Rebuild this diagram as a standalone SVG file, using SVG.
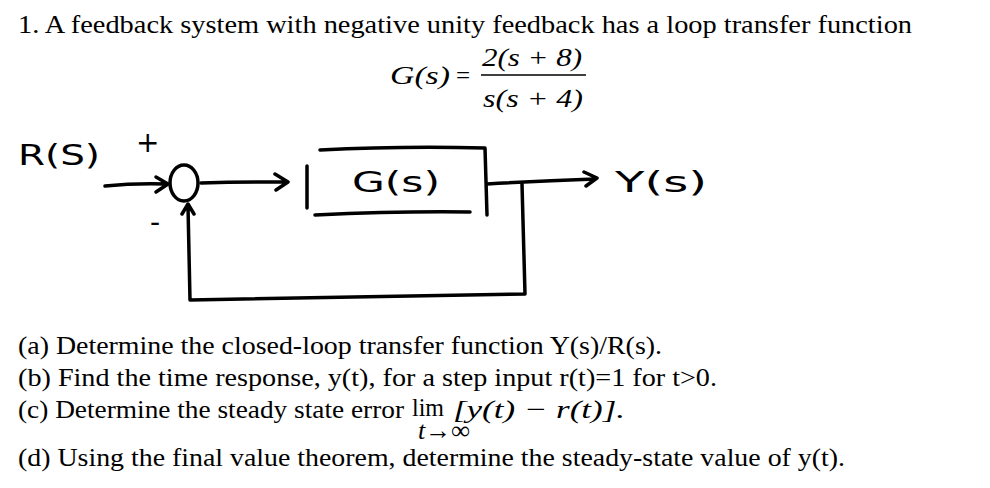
<svg xmlns="http://www.w3.org/2000/svg" width="990" height="488" viewBox="0 0 990 488">
<style>
.t{font-family:"Liberation Serif",serif;font-size:25px;fill:#000}
.m{font-family:"Liberation Serif",serif;font-size:26px;fill:#000;font-style:italic}
.h{fill:none;stroke:#000;stroke-width:3.5;stroke-linecap:round;stroke-linejoin:round}
.hw{font-family:"DejaVu Sans",sans-serif;font-size:28px;fill:#000}
</style>
<rect width="990" height="488" fill="#fff"/>
<text class="t" x="18" y="33" textLength="894" lengthAdjust="spacingAndGlyphs">1.  A feedback system with negative unity feedback has a loop transfer function</text>
<g id="eq">
<text class="m" x="390" y="84" textLength="60" lengthAdjust="spacingAndGlyphs">G(s)</text>
<text class="t" x="456" y="84">=</text>
<text class="m" x="482" y="66" textLength="100" lengthAdjust="spacingAndGlyphs">2(s + 8)</text>
<line x1="481" y1="75" x2="586" y2="75" stroke="#000" stroke-width="1.6"/>
<text class="m" x="483" y="107" textLength="100" lengthAdjust="spacingAndGlyphs">s(s + 4)</text>
</g>
<g id="R"><text class="hw" x="18" y="165" textLength="82" lengthAdjust="spacingAndGlyphs">R(S)</text><text class="hw" x="136" y="152">+</text></g>
<g id="sum"><ellipse class="h" cx="184" cy="183" rx="14" ry="18"/><text class="hw" x="150" y="232">-</text></g>
<g id="G"><path class="h" d="M307 166 L307 208 M320 150 Q400 146 485 148 L487 215 M315 215 Q400 211 470 212"/><text class="hw" x="352" y="192" textLength="88" lengthAdjust="spacingAndGlyphs">G(s)</text></g>
<g id="Y"><text class="hw" x="615" y="192" textLength="92" lengthAdjust="spacingAndGlyphs">Y(s)</text></g>
<g id="connectors">
<path class="h" d="M105 186 Q135 183 166 184 M156 177 L168 184 L156 192"/>
<path class="h" d="M201 183 Q240 182 285 182 M275 174 L288 182 L276 190"/>
<path class="h" d="M487 184 Q540 181 595 179 M584 172 L597 178 L586 186"/>
<path class="h" d="M522 184 L525 294 Q350 297 190 300 L188 206 M182 214 L188 204 L194 214"/>
</g>
<g id="questions">
<text class="t" x="18" y="354" textLength="644" lengthAdjust="spacingAndGlyphs">(a) Determine the closed-loop transfer function Y(s)/R(s).</text>
<text class="t" x="18" y="386" textLength="699" lengthAdjust="spacingAndGlyphs">(b) Find the time response, y(t), for a step input r(t)=1 for t&gt;0.</text>
<text class="t" x="18" y="418" textLength="386" lengthAdjust="spacingAndGlyphs">(c) Determine the steady state error</text>
<text class="t" x="412" y="416" textLength="32" lengthAdjust="spacingAndGlyphs">lim</text>
<text class="m" x="453" y="418" textLength="172" lengthAdjust="spacingAndGlyphs">[y(t) − r(t)].</text>
<text class="m" x="418" y="439" font-size="12">t→∞</text>
<text class="t" x="18" y="466" textLength="827" lengthAdjust="spacingAndGlyphs">(d) Using the final value theorem, determine the steady-state value of y(t).</text>
</g>
</svg>
